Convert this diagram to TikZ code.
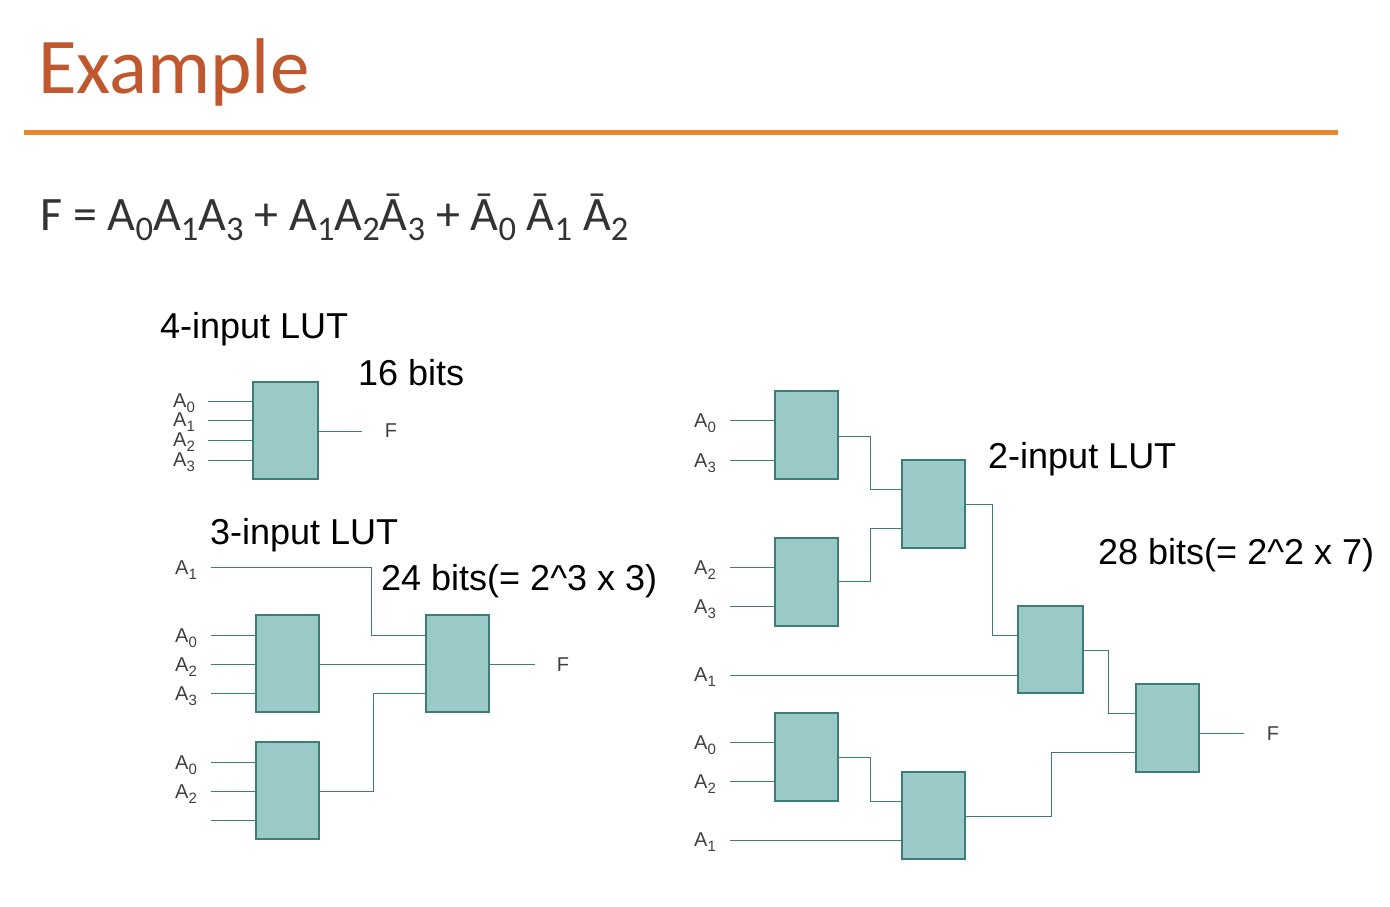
\documentclass[tikz,border=0pt]{standalone}
\usepackage{fontspec}
\setmainfont{Liberation Sans}
\newfontfamily\carl{Carlito}
\definecolor{titc}{HTML}{C0582F}
\definecolor{linec}{HTML}{E8862A}
\definecolor{boxf}{HTML}{9ACAC8}
\definecolor{boxd}{HTML}{3E7C78}
\newcommand{\sbs}[1]{\raisebox{-0.45ex}{\scalebox{0.72}{#1}}}
\newcommand{\lab}[2]{A\raisebox{-0.5ex}{\scalebox{0.75}{#2}}}
\begin{document}
\begin{tikzpicture}[x=1pt,y=-1pt,
  lut/.style={draw=boxd,fill=boxf,line width=1.2pt},
  w/.style={draw=boxd,line width=1pt},
  al/.style={font=\fontsize{20}{20}\selectfont,text=black!75,inner sep=0pt},
  big/.style={font=\fontsize{36}{36}\selectfont,inner sep=0pt,anchor=base west}]
\useasboundingbox (0,0) rectangle (1390,906);
\node[anchor=base west,inner sep=0pt,text=titc,font=\carl\fontsize{79}{79}\selectfont] (title) at (38,93) {Example};
\draw[linec,line width=5pt] (24,132) -- (1338,132);
\node[anchor=base west,inner sep=0pt,text=black!80,font=\carl\fontsize{48}{48}\selectfont] (eq) at (40,230)
 {F = A\sbs{0}A\sbs{1}A\sbs{3} + A\sbs{1}A\sbs{2}Ā\sbs{3} + Ā\sbs{0} Ā\sbs{1} Ā\sbs{2}};
\node[big] (t4) at (160,338) {4-input LUT};
\node[big] (b16) at (358,385) {16 bits};
\node[big] (t3) at (210,544) {3-input LUT};
\node[big] (b24) at (381,590) {24 bits(= 2\^{}3 x 3)};
\node[big] (t2) at (988,468) {2-input LUT};
\node[big] (b28) at (1098,564) {28 bits(= 2\^{}2 x 7)};
% 4-input
\draw[lut] (253,382) rectangle (318,479);
\foreach \y/\i in {401/0,420/1,440/2,460/3}{
  \draw[w] (208,\y) -- (253,\y);
  \node[al] (l4\i) at (184,\y+2) {\lab{}{\i}};}
\draw[w] (318,431) -- (362,431);
\node[al] (f4) at (391,431) {F};
% 3-input
\draw[lut] (256,615) rectangle (319,712);
\draw[lut] (256,742) rectangle (319,839);
\draw[lut] (426,615) rectangle (489,712);
\foreach \y in {635,664,693,762,791,820}{\draw[w] (211,\y) -- (256,\y);}
\node[al] (a1) at (186,570) {\lab{}{1}};
\node[al] (a2) at (186,638) {\lab{}{0}};
\node[al] (a3) at (186,667) {\lab{}{2}};
\node[al] (a4) at (186,696) {\lab{}{3}};
\node[al] (a5) at (186,765) {\lab{}{0}};
\node[al] (a6) at (186,794) {\lab{}{2}};
\draw[w] (211,567) -- (371,567) -- (371,635) -- (426,635);
\draw[w] (319,664) -- (426,664);
\draw[w] (319,791) -- (373,791) -- (373,693) -- (426,693);
\draw[w] (489,664) -- (535,664);
\node[al] (f3) at (563,665) {F};
% 2-input
\draw[lut] (775,391) rectangle (838,479);
\draw[lut] (775,538) rectangle (838,626);
\draw[lut] (902,460) rectangle (965,548);
\draw[lut] (1018,606) rectangle (1083,693);
\draw[lut] (775,713) rectangle (838,801);
\draw[lut] (902,772) rectangle (965,859);
\draw[lut] (1136,684) rectangle (1199,772);
\foreach \y in {420,460,567,606,742,781}{\draw[w] (730,\y) -- (775,\y);}
\foreach \y/\i in {423/0,463/3,570/2,609/3,677/1,745/0,784/2,842/1}{
  \node[al] at (705,\y) {\lab{}{\i}};}
\draw[w] (838,436) -- (870,436) -- (870,489) -- (902,489);
\draw[w] (838,581) -- (870,581) -- (870,528) -- (902,528);
\draw[w] (965,504) -- (992,504) -- (992,635) -- (1018,635);
\draw[w] (730,675) -- (1018,675);
\draw[w] (838,757) -- (870,757) -- (870,801) -- (902,801);
\draw[w] (730,840) -- (902,840);
\draw[w] (1083,650) -- (1108,650) -- (1108,713) -- (1136,713);
\draw[w] (965,816) -- (1051,816) -- (1051,752) -- (1136,752);
\draw[w] (1199,733) -- (1244,733);
\node[al] (f2) at (1273,734) {F};
\end{tikzpicture}
\end{document}
